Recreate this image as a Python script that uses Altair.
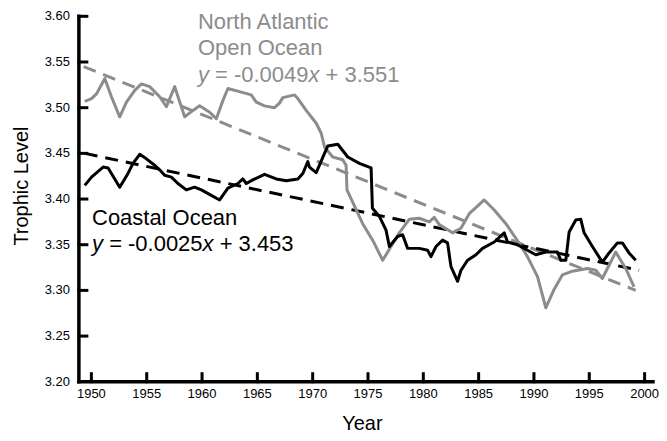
import altair as alt
import pandas as pd

# ---- data ----
open_years = [1949.40, 1950.01, 1950.46, 1951.21, 1951.81, 1952.56, 1953.17, 1953.92, 1954.52, 1955.27,
              1956.17, 1956.78, 1957.53, 1958.13, 1958.43, 1959.18, 1959.78, 1960.69, 1961.29, 1961.89,
              1962.34, 1963.55, 1964.45, 1964.90, 1965.65, 1966.55, 1967.00, 1967.30, 1968.36, 1968.66,
              1969.41, 1970.32, 1970.77, 1971.07, 1971.81, 1972.72, 1973.02, 1973.10, 1974.52, 1975.42,
              1976.33, 1977.83, 1978.74, 1979.64, 1980.54, 1980.99, 1981.44, 1982.64, 1983.40, 1984.15,
              1985.51, 1986.41, 1987.46, 1988.37, 1989.41, 1990.32, 1991.07, 1991.82, 1992.57, 1993.47,
              1994.83, 1995.59, 1996.18, 1997.39, 1998.29, 1999.04]
open_vals = [3.507, 3.510, 3.515, 3.532, 3.512, 3.490, 3.506, 3.519, 3.526, 3.523,
             3.512, 3.501, 3.523, 3.501, 3.490, 3.497, 3.502, 3.495, 3.488, 3.508,
             3.521, 3.517, 3.514, 3.506, 3.502, 3.500, 3.505, 3.511, 3.514, 3.510,
             3.497, 3.483, 3.472, 3.457, 3.446, 3.443, 3.437, 3.410, 3.373, 3.355,
             3.333, 3.363, 3.378, 3.379, 3.375, 3.380, 3.372, 3.363, 3.368, 3.384,
             3.399, 3.388, 3.373, 3.357, 3.337, 3.315, 3.281, 3.301, 3.317, 3.321,
             3.324, 3.322, 3.313, 3.342, 3.324, 3.304]

coast_years = [1949.40, 1950.01, 1951.06, 1951.51, 1952.56, 1953.31, 1953.76, 1954.37, 1954.97, 1955.72,
               1956.17, 1956.62, 1957.23, 1957.82, 1958.58, 1959.33, 1959.94, 1960.84, 1961.59, 1962.34,
               1963.24, 1963.69, 1964.00, 1964.59, 1965.65, 1966.71, 1967.61, 1968.66, 1969.11, 1969.56,
               1969.71, 1970.32, 1971.07, 1971.36, 1972.27, 1973.17, 1974.22, 1975.28, 1975.40, 1976.03,
               1976.63, 1976.93, 1977.68, 1978.13, 1978.58, 1979.64, 1980.39, 1980.69, 1981.15, 1981.74,
               1982.19, 1982.50, 1983.10, 1983.40, 1984.00, 1984.76, 1985.35, 1986.41, 1987.31, 1987.61,
               1988.51, 1989.41, 1990.17, 1991.07, 1992.12, 1992.43, 1992.88, 1993.18, 1993.78, 1994.23,
               1994.53, 1995.28, 1996.18, 1996.79, 1997.54, 1997.99, 1998.59, 1999.20]
coast_vals = [3.415, 3.424, 3.435, 3.434, 3.413, 3.428, 3.439, 3.449, 3.444, 3.437,
              3.432, 3.426, 3.424, 3.417, 3.410, 3.413, 3.410, 3.404, 3.399, 3.412,
              3.417, 3.422, 3.417, 3.421, 3.427, 3.422, 3.420, 3.422, 3.428, 3.441,
              3.435, 3.429, 3.450, 3.458, 3.460, 3.446, 3.439, 3.434, 3.390, 3.381,
              3.366, 3.348, 3.359, 3.361, 3.346, 3.346, 3.344, 3.337, 3.348, 3.355,
              3.352, 3.326, 3.310, 3.322, 3.333, 3.339, 3.346, 3.353, 3.363, 3.353,
              3.350, 3.344, 3.339, 3.342, 3.342, 3.333, 3.333, 3.364, 3.377, 3.378,
              3.363, 3.348, 3.331, 3.341, 3.352, 3.352, 3.341, 3.333]

open_trend_years = [1949.3, 1999.2]
open_trend_vals = [3.545, 3.300]
coast_trend_years = [1949.4, 1999.5]
coast_trend_vals = [3.450, 3.322]

x_ticks = [1950, 1955, 1960, 1965, 1970, 1975, 1980, 1985, 1990, 1995, 2000]
x_tick_labels = ["1950", "1955", "1960", "1965", "1970", "1975", "1980", "1985", "1990", "1995", "2000"]
y_ticks = [3.20, 3.25, 3.30, 3.35, 3.40, 3.45, 3.50, 3.55, 3.60]
y_tick_labels = ["3.20", "3.25", "3.30", "3.35", "3.40", "3.45", "3.50", "3.55", "3.60"]
y_inner_ticks = [3.25, 3.30, 3.35, 3.40, 3.45, 3.50, 3.55, 3.60]
x_lo, x_hi = 1948.87, 2000.76
y_lo, y_hi = 3.20, 3.60
# length of the inward ticks, in axis units (about 8 px each)
x_tick_len = 0.0088   # trophic-level units
y_tick_len = 0.72     # years

series_names = ["open", "coast"]
series_colors = ["#8c8c8c", "#000000"]

label_series = ["open", "open", "coast"]
label_year = [1959.63, 1959.63, 1950.06]
label_value = [3.5866, 3.5581, 3.3716]
label_text = ["North Atlantic", "Open Ocean", "Coastal Ocean"]

eq_series = ["open", "coast"]
eq_year = [1959.63, 1950.06]
eq_value = [3.5282, 3.3435]
eq_slope = ["= -0.0049", "= -0.0025"]
eq_icpt = ["+ 3.551", "+ 3.453"]

x_title = "Year"
y_title = "Trophic Level"

FONT = "Liberation Sans"
W, H = 575, 366

# ---- tables ----
lines_df = pd.concat([
    pd.DataFrame({"year": open_years, "value": open_vals, "series": "open"}),
    pd.DataFrame({"year": coast_years, "value": coast_vals, "series": "coast"}),
])
trend_df = pd.concat([
    pd.DataFrame({"year": open_trend_years, "value": open_trend_vals, "series": "open"}),
    pd.DataFrame({"year": coast_trend_years, "value": coast_trend_vals, "series": "coast"}),
])
labels_df = pd.DataFrame({"series": label_series, "year": label_year,
                          "value": label_value, "text": label_text})
eq_df = pd.DataFrame({"series": eq_series, "year": eq_year, "value": eq_value,
                      "slope": eq_slope, "icpt": eq_icpt, "y": "y", "x": "x"})
xlab_df = pd.DataFrame({"year": x_ticks, "value": [y_lo] * len(x_ticks), "text": x_tick_labels})
ylab_df = pd.DataFrame({"value": y_ticks, "year": [x_lo] * len(y_ticks), "text": y_tick_labels})

# each tick as a tiny two-point segment, plus the two axis lines
seg_rows = []
for i, t in enumerate(x_ticks):
    seg_rows.append({"seg": f"xt{i}", "year": float(t), "value": y_lo, "w": "tick"})
    seg_rows.append({"seg": f"xt{i}", "year": float(t), "value": y_lo + x_tick_len, "w": "tick"})
for i, t in enumerate(y_inner_ticks):
    seg_rows.append({"seg": f"yt{i}", "year": x_lo, "value": t, "w": "tick"})
    seg_rows.append({"seg": f"yt{i}", "year": x_lo + y_tick_len, "value": t, "w": "tick"})
seg_rows.append({"seg": "xaxis", "year": x_lo, "value": y_lo, "w": "axis"})
seg_rows.append({"seg": "xaxis", "year": x_hi, "value": y_lo, "w": "axis"})
seg_rows.append({"seg": "yaxis", "year": x_lo, "value": y_lo, "w": "axis"})
seg_rows.append({"seg": "yaxis", "year": x_lo, "value": y_hi, "w": "axis"})
seg_df = pd.DataFrame(seg_rows)

titles_df = pd.DataFrame({"text": [x_title]})
ytitle_df = pd.DataFrame({"text": [y_title]})

xscale = alt.Scale(domain=[x_lo, x_hi], nice=False, zero=False)
yscale = alt.Scale(domain=[y_lo, y_hi], nice=False, zero=False)
color = alt.Color("series:N", scale=alt.Scale(domain=series_names, range=series_colors), legend=None)

def X(f="year"):
    return alt.X(f + ":Q", scale=xscale, axis=None)

def Y(f="value"):
    return alt.Y(f + ":Q", scale=yscale, axis=None)

trend = alt.Chart(trend_df).mark_line(strokeWidth=3, strokeDash=[13, 8]).encode(
    x=X(), y=Y(), color=color, detail="series:N",
)

lines = alt.Chart(lines_df).mark_line(strokeWidth=3, strokeJoin="round").encode(
    x=X(), y=Y(), color=color, detail="series:N", order="year:Q",
)

segments = alt.Chart(seg_df).mark_line(color="black", strokeCap="square").encode(
    x=X(), y=Y(), detail="seg:N",
    strokeWidth=alt.StrokeWidth("w:N", scale=alt.Scale(domain=["tick", "axis"], range=[3, 3.5]),
                                legend=None),
)

# tick labels
xlabels = alt.Chart(xlab_df).mark_text(
    align="center", baseline="top", fontSize=13, font=FONT, color="black", dy=6,
).encode(x=X(), y=Y(), text="text:N")
ylabels = alt.Chart(ylab_df).mark_text(
    align="right", baseline="middle", fontSize=13, font=FONT, color="black", dx=-9,
).encode(x=X(), y=Y(), text="text:N")

# axis titles
xtitle = alt.Chart(titles_df).mark_text(
    align="center", baseline="alphabetic", fontSize=20, font=FONT, color="black",
).encode(x=alt.value(284), y=alt.value(H + 48), text="text:N")
ytitle = alt.Chart(ytitle_df).mark_text(
    align="center", baseline="middle", fontSize=20, font=FONT, color="black", angle=270,
).encode(x=alt.value(-57), y=alt.value(170), text="text:N")

def txt(df, field, dx, italic=False):
    return alt.Chart(df).mark_text(
        align="left", baseline="alphabetic", fontSize=22, font=FONT, dx=dx,
        fontStyle="italic" if italic else "normal",
    ).encode(
        x=X(), y=Y(),
        text=alt.Text(field + ":N"),
        color=color,
    )

names = txt(labels_df, "text", 0)
eq_y = txt(eq_df, "y", 0, italic=True)
eq_s = txt(eq_df, "slope", 17.1)
eq_x = txt(eq_df, "x", 110.7, italic=True)
eq_i = txt(eq_df, "icpt", 127.8)

chart = alt.layer(
    trend, lines, segments, xlabels, ylabels, xtitle, ytitle,
    names, eq_y, eq_s, eq_x, eq_i
).properties(
    width=W, height=H,
    padding={"left": 71, "top": 8, "right": 6, "bottom": 60},
    autosize=alt.AutoSizeParams(type="none"),
).configure(
    font=FONT,
    view=alt.ViewConfig(stroke=None),
)

chart.save("out.html", embed_options={"renderer": "svg", "actions": False})
